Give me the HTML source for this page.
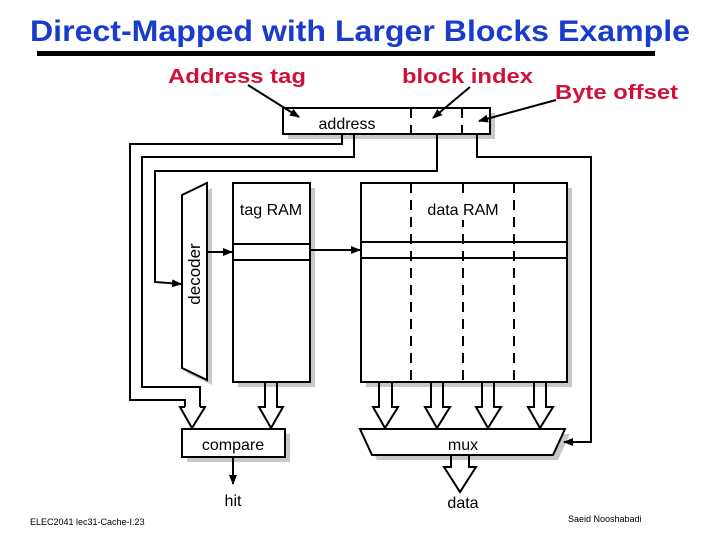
<!DOCTYPE html>
<html><head><meta charset="utf-8"><style>
body{margin:0;background:#fff;}
svg{display:block;font-family:"Liberation Sans",Arial,sans-serif;}
</style></head><body>
<svg width="720" height="540" viewBox="0 0 720 540" xmlns="http://www.w3.org/2000/svg">
<defs>
<marker id="ah" markerWidth="10" markerHeight="8" refX="9" refY="4" orient="auto" markerUnits="userSpaceOnUse"><path d="M0,0 L10,4 L0,8 z" fill="#000"/></marker>
</defs>
<text x="360" y="41" text-anchor="middle" font-size="30" font-weight="bold" fill="#1a3ccc" textLength="660" lengthAdjust="spacingAndGlyphs">Direct-Mapped with Larger Blocks Example</text>
<rect x="37" y="51" width="618" height="5" fill="#000"/>
<g font-size="20" font-weight="bold" fill="#d01038">
<text x="168" y="83" textLength="138" lengthAdjust="spacingAndGlyphs">Address tag</text>
<text x="402" y="83" textLength="131" lengthAdjust="spacingAndGlyphs">block index</text>
<text x="555" y="99" textLength="123" lengthAdjust="spacingAndGlyphs">Byte offset</text>
</g>
<!-- shadows -->
<g fill="#c8c8c8">
<rect x="288" y="113" width="207" height="26"/>
<rect x="238" y="188" width="77" height="199"/>
<rect x="366" y="188" width="206" height="199"/>
<polygon points="187,200 212,188 212,385 187,373"/>
<rect x="187" y="434" width="103" height="28"/>
<polygon points="365,434 570,434 558,460 377,460"/>
</g>
<g stroke="#000" stroke-width="2" fill="#fff">
<rect x="283" y="108" width="207" height="26"/>
<rect x="233" y="183" width="77" height="199"/>
<rect x="361" y="183" width="206" height="199"/>
<polygon points="182,195 207,183 207,380 182,368"/>
<rect x="182" y="429" width="103" height="28"/>
<polygon points="360,429 565,429 553,455 372,455"/>
</g>
<g stroke="#000" stroke-width="2" fill="none">
<rect x="233" y="244" width="77" height="16"/>
<rect x="361" y="242" width="206" height="16"/>
</g>
<g stroke="#000" stroke-width="2" stroke-dasharray="10,7">
<line x1="411" y1="108" x2="411" y2="134"/>
<line x1="462" y1="108" x2="462" y2="134"/>
<line x1="411" y1="183" x2="411" y2="382"/>
<line x1="463" y1="183" x2="463" y2="382"/>
<line x1="514" y1="183" x2="514" y2="382"/>
</g>
<rect x="424" y="198" width="78" height="22" fill="#fff"/>
<g stroke="#000" stroke-width="2" fill="none">
<line x1="248" y1="85" x2="299" y2="117" marker-end="url(#ah)"/>
<line x1="470" y1="87" x2="433" y2="118" marker-end="url(#ah)"/>
<line x1="556" y1="100" x2="479" y2="121" marker-end="url(#ah)"/>
<polyline points="342,134 342,144 130,144 130,400 185,400 185,407"/>
<polyline points="354,134 354,157 142,157 142,387 200,387 200,407"/>
<polyline points="437,134 437,171 155,171 155,282 181,284" marker-end="url(#ah)"/>
<polyline points="477,134 477,157 591,157 591,442 564,442" marker-end="url(#ah)"/>
<line x1="207" y1="252" x2="232" y2="252" marker-end="url(#ah)"/>
<line x1="310" y1="250" x2="360" y2="250" marker-end="url(#ah)"/>
<line x1="233" y1="457" x2="233" y2="484" marker-end="url(#ah)"/>
<polyline points="185,407 180,407 192,428 205,407 200,407"/>
<polyline points="265,382 265,407 259,407 271,428 283,407 277,407 277,382"/>
<polyline points="379,382 379,407 373,407 385,428 398,407 392,407 392,382"/>
<polyline points="431,382 431,407 425,407 437,428 450,407 443,407 443,382"/>
<polyline points="482,382 482,407 476,407 488,428 501,407 494,407 494,382"/>
<polyline points="534,382 534,407 528,407 540,428 553,407 546,407 546,382"/>
<polyline points="451,455 451,467 444,467 460,492 476,467 469,467 469,455"/>
</g>
<g font-size="16" fill="#000" text-anchor="middle">
<text x="347" y="129">address</text>
<text x="271" y="215">tag RAM</text>
<text x="463" y="215">data RAM</text>
<text x="233" y="450">compare</text>
<text x="463" y="450">mux</text>
<text x="233" y="506">hit</text>
<text x="463" y="508">data</text>
<text transform="translate(200,274) rotate(-90)" font-size="17">decoder</text>
</g>
<text x="30" y="525" font-size="9" fill="#000">ELEC2041  lec31-Cache-I.23</text>
<text x="568" y="522" font-size="9" fill="#000">Saeid Nooshabadi</text>
</svg>
</body></html>
